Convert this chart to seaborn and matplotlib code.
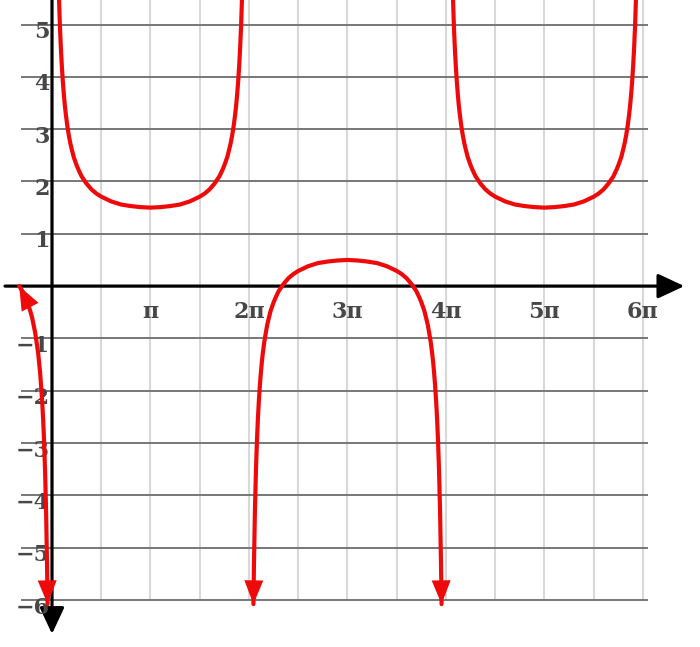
import pandas as pd
import matplotlib
matplotlib.use('Agg')
import matplotlib.pyplot as plt
import seaborn as sns

left_x = [-0.333, -0.30, -0.27, -0.25, -0.22, -0.20, -0.17, -0.14, -0.12, -0.10, -0.09, -0.08, -0.07, -0.06,
          -0.05, -0.045]
left_y = [0.0, -0.10, -0.23, -0.31, -0.48, -0.62, -0.90, -1.29, -1.67, -2.20, -2.55, -2.99, -3.56, -4.31,
          -5.37, -6.08]

upper1_x = [0.069, 0.08, 0.09, 0.10, 0.11, 0.12, 0.13, 0.14, 0.155, 0.17, 0.185, 0.20, 0.22, 0.25, 0.27, 0.30,
            0.35, 0.40, 0.45, 0.50, 0.60, 0.70, 0.80, 0.90, 1.00,
            1.10, 1.20, 1.30, 1.40, 1.50, 1.55, 1.60, 1.65, 1.70, 1.73, 1.75, 1.78, 1.80, 1.815, 1.83, 1.845,
            1.86, 1.87, 1.88, 1.89, 1.90, 1.91, 1.92, 1.931]
upper1_y = [5.62, 4.99, 4.55, 4.20, 3.91, 3.67, 3.46, 3.29, 3.07, 2.89, 2.74, 2.62, 2.47, 2.31, 2.22, 2.10,
            1.96, 1.85, 1.77, 1.71, 1.62, 1.56, 1.53, 1.51, 1.50,
            1.51, 1.53, 1.56, 1.62, 1.71, 1.77, 1.85, 1.96, 2.10, 2.22, 2.31, 2.47, 2.62, 2.74, 2.89, 3.07,
            3.29, 3.46, 3.67, 3.91, 4.20, 4.55, 4.99, 5.62]

middle_x = [2.045, 2.05, 2.06, 2.07, 2.08, 2.09, 2.10, 2.11, 2.12, 2.13, 2.14, 2.155, 2.17, 2.185, 2.20, 2.22,
            2.25, 2.27, 2.30, 2.35, 2.40, 2.45, 2.50, 2.60, 2.70, 2.80, 2.90, 3.00,
            3.10, 3.20, 3.30, 3.40, 3.50, 3.55, 3.60, 3.65, 3.70, 3.73, 3.75, 3.78, 3.80, 3.815, 3.83, 3.845,
            3.86, 3.87, 3.88, 3.89, 3.90, 3.91, 3.92, 3.93, 3.94, 3.95, 3.955]
middle_y = [-6.08, -5.37, -4.31, -3.56, -2.99, -2.55, -2.20, -1.91, -1.67, -1.46, -1.29, -1.07, -0.90, -0.74,
            -0.62, -0.47, -0.31, -0.22, -0.10, 0.04, 0.15, 0.23, 0.29, 0.38, 0.44, 0.47, 0.49, 0.50,
            0.49, 0.47, 0.44, 0.38, 0.29, 0.23, 0.15, 0.04, -0.10, -0.22, -0.31, -0.47, -0.62, -0.74, -0.90,
            -1.07, -1.29, -1.46, -1.67, -1.91, -2.20, -2.55, -2.99, -3.56, -4.31, -5.37, -6.08]

upper2_x = [4.069, 4.08, 4.09, 4.10, 4.11, 4.12, 4.13, 4.14, 4.155, 4.17, 4.185, 4.20, 4.22, 4.25, 4.27, 4.30,
            4.35, 4.40, 4.45, 4.50, 4.60, 4.70, 4.80, 4.90, 5.00,
            5.10, 5.20, 5.30, 5.40, 5.50, 5.55, 5.60, 5.65, 5.70, 5.73, 5.75, 5.78, 5.80, 5.815, 5.83, 5.845,
            5.86, 5.87, 5.88, 5.89, 5.90, 5.91, 5.92, 5.931]
upper2_y = upper1_y

x_ticks = [1, 2, 3, 4, 5, 6]
x_tick_labels = ['π', '2π', '3π', '4π', '5π', '6π']
y_ticks = [5, 4, 3, 2, 1, -1, -2, -3, -4, -5, -6]
y_tick_labels = ['5', '4', '3', '2', '1', '−1', '−2', '−3', '−4', '−5', '−6']
v_grid = [0.5, 1, 1.5, 2, 2.5, 3, 3.5, 4, 4.5, 5, 5.5, 6]

sns.set_theme(style='white')
plt.rcParams['font.family'] = ['DejaVu Serif']

red = '#ee0a0a'
label_color = '#474747'

frames = []
for name, xs, ys in [('left', left_x, left_y), ('upper1', upper1_x, upper1_y),
                     ('middle', middle_x, middle_y), ('upper2', upper2_x, upper2_y)]:
    frames.append(pd.DataFrame({'x': xs, 'y': ys, 'branch': name}))
curve = pd.concat(frames, ignore_index=True)

fig = plt.figure(figsize=(7, 6.47), dpi=100)
ax = fig.add_axes([0, 0, 1, 1])
ax.axis('off')

# grid
ax.vlines(v_grid, -6, 6, color='#d8d8d8', lw=1.5, zorder=1)
ax.hlines(y_ticks, -0.31, 6.05, color='#777777', lw=1.4, zorder=2)

# axes with arrows
axis_arrow = dict(arrowstyle='-|>,head_length=0.9,head_width=0.42', color='black', lw=2.3,
                  shrinkA=0, shrinkB=0, mutation_scale=18)
ax.annotate('', xy=(6.42, 0), xytext=(-0.477, 0), arrowprops=axis_arrow, zorder=3)
ax.annotate('', xy=(0, -6.65), xytext=(0, 5.6), arrowprops=axis_arrow, zorder=3)

# the curve
sns.lineplot(data=curve, x='x', y='y', units='branch', estimator=None, sort=False,
             color=red, lw=3.0, ax=ax, zorder=5, legend=False)
ax.set_xlim(-0.528, 6.579)
ax.set_ylim(-6.90, 5.47)

# arrow heads at the open ends of the curve
for xs, ys in [(left_x, left_y), (middle_x, middle_y)]:
    for i, j in [(0, 2), (-1, -3)]:
        ax.annotate('', xy=(xs[i], ys[i]), xytext=(xs[j], ys[j]),
                    arrowprops=dict(arrowstyle='-|>,head_length=0.95,head_width=0.38', color=red, lw=0,
                                    shrinkA=0, shrinkB=0, mutation_scale=18), zorder=6)

# tick labels
for x, lab in zip(x_ticks, x_tick_labels):
    ax.text(x, -0.61, lab, ha='center', va='baseline', fontsize=16, fontweight='bold',
            color=label_color, zorder=4)
for y, lab in zip(y_ticks, y_tick_labels):
    ax.text(-0.025, y - 0.26, lab, ha='right', va='baseline', fontsize=16, fontweight='bold',
            color=label_color, zorder=4)

fig.savefig('out.png', dpi=100)
